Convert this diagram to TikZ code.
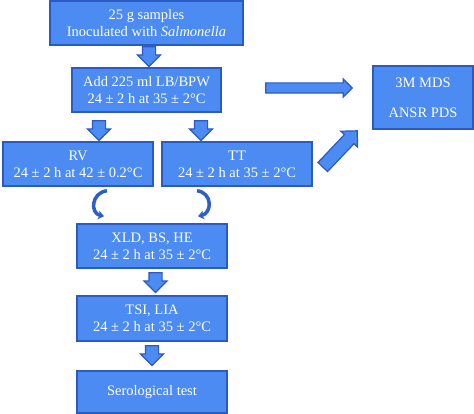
\documentclass[tikz,border=0pt]{standalone}
\usepackage{fontspec}
\setmainfont{Liberation Serif}
\usetikzlibrary{shapes.arrows, arrows.meta, calc}
\definecolor{boxblue}{HTML}{4B8BF2}
\definecolor{edgeblue}{HTML}{2B5BC2}
\definecolor{curlblue}{HTML}{2E5FC8}
\newcommand{\boxfont}{\fontsize{14.5}{17}\selectfont}
\tikzstyle{stage} = [rectangle, 
draw=edgeblue, 
line width=1.5pt, 
fill=boxblue, 
text=white, 
align=center, 
inner sep=0pt, 
minimum width=150pt, 
minimum height=44pt, 
font=\boxfont]
\tikzstyle{blockarrow} = [single arrow, 
draw=edgeblue, 
line width=1.2pt, 
fill=boxblue, 
inner sep=6pt, outer sep=0pt, 
single arrow head extend=5pt, 
minimum width=22pt]
\tikzstyle{slimarrow} = [inner sep=4.5pt, 
single arrow head extend=4pt, 
minimum width=17pt]
\tikzstyle{curl} = [line width=3.5pt, draw=curlblue, -{Stealth[length=6pt,width=9pt]}]
% block arrow between two points
\newcommand{\blockarr}[3][]{%
	\path let \p1=(#2), \p2=(#3), \n1={atan2(\y2-\y1,\x2-\x1)}, \n2={veclen(\x2-\x1,\y2-\y1)} in
	node[blockarrow, #1, minimum height=\n2, rotate=\n1, anchor=tail] at (\p1) {};}

\begin{document}
\begin{tikzpicture}[x=1pt, y=-1pt, node distance=72pt]
		\useasboundingbox (0,0) rectangle (474,414);
		
		\node (samples) [stage, minimum width=193pt] at (146.5,23) {25 g samples\\Inoculated with \textit{Salmonella}};
		\node (add) [stage, below of=samples, yshift=5pt, minimum width=149pt] {Add 225 ml LB/BPW\\24 ± 2 h at 35 ± 2°C};
		\node (rv) [stage, below of=add, xshift=-68.5pt, yshift=-2pt] {RV\\24 ± 2 h at 42 ± 0.2°C};
		\node (tt) [stage, below of=add, xshift=90.5pt, yshift=-2pt] {TT\\24 ± 2 h at 35 ± 2°C};
		\node (mds) [stage, right of=add, xshift=204.5pt, yshift=-7.5pt, minimum width=100pt, minimum height=63pt] {3M MDS\\[13pt]ANSR PDS};
		\node (xld) [stage, below of=rv, xshift=74pt, yshift=-10pt] {XLD, BS, HE\\24 ± 2 h at 35 ± 2°C};
		\node (tsi) [stage, below of=xld, yshift=-0.5pt, minimum height=45pt] {TSI, LIA\\24 ± 2 h at 35 ± 2°C};
		\node (sero) [stage, below of=tsi, yshift=-1.5pt, minimum height=42pt] {Serological test};
		
		\blockarr{$(samples.south)+(2.5,1)$}{$(add.north)+(2.5,-1)$}
		\blockarr[slimarrow]{$(add.east)+(44,-2)$}{$(mds.west)+(-20,-9.5)$}
		\blockarr{$(add.south)+(-47.5,8)$}{$(rv.north)+(21,-2)$}
		\blockarr{$(add.south)+(54.5,8)$}{$(tt.north)+(-36,-2)$}
		\blockarr{$(tt.east)+(10,3)$}{$(mds.south west)+(-15,1)$}
		\blockarr{$(xld.south)+(3.5,4)$}{$(tsi.north)+(3.5,-3)$}
		\blockarr{$(tsi.south)+(0,4)$}{$(sero.north)+(0,-5)$}
		
		\draw[curl] ($(rv.south)+(29,4)$) .. controls +(-16,2) and +(-14,-3) .. ($(xld.north)+(-48,-7)$);
		\draw[curl] ($(tt.south)+(-40,4)$) .. controls +(16,2) and +(14,-3) .. ($(xld.north)+(46,-7)$);
		
	\end{tikzpicture}
\end{document}
